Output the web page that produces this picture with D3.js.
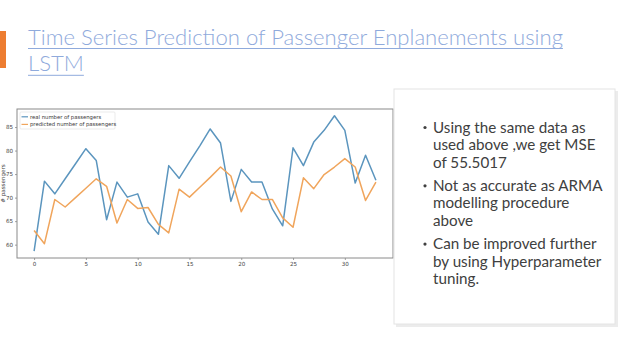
<!DOCTYPE html>
<html><head><meta charset="utf-8">
<script src="https://cdn.jsdelivr.net/npm/d3@7"></script>
<style>html,body{margin:0;padding:0;background:#fff;}svg{display:block;}</style>
</head><body>
<svg id="c" width="638" height="359"></svg>
<script>
const steps = d3.range(0, 34);
const realPassengers = [58.6, 73.5, 70.8, 74.0, 77.2, 80.4, 77.9, 65.3, 73.3, 70.1, 70.8, 64.8, 62.2, 76.8, 74.1, 77.6, 81.0, 84.6, 81.6, 69.2, 76.0, 73.3, 73.3, 67.6, 64.0, 80.6, 76.8, 81.8, 84.3, 87.4, 84.3, 73.1, 79.0, 73.7];
const predictedPassengers = [63.0, 60.2, 69.6, 68.0, 70.0, 72.0, 74.0, 72.4, 64.6, 69.6, 67.7, 67.9, 64.3, 62.5, 71.8, 70.1, 72.2, 74.3, 76.5, 74.6, 67.0, 71.2, 69.6, 69.6, 65.7, 63.7, 74.2, 71.9, 74.9, 76.5, 78.3, 76.5, 69.4, 73.3];
const xTicks = [0, 5, 10, 15, 20, 25, 30];
const yTicks = [60, 65, 70, 75, 80, 85];
const seriesNames = ["real number of passengers", "predicted number of passengers"];
const titleLines = ["Time Series Prediction of Passenger Enplanements using", "LSTM"];
const bulletItems = [
  ["Using the same data as", "used above ,we get MSE", "of 55.5017"],
  ["Not as accurate as ARMA", "modelling procedure", "above"],
  ["Can be improved further", "by using Hyperparameter", "tuning."]
];

const svg = d3.select("#c");
svg.append("rect").attr("width", 638).attr("height", 359).attr("fill", "#fff");

// Title
svg.append("rect").attr("x", 0).attr("y", 31).attr("width", 6).attr("height", 37).attr("fill", "#ED7D31");
const titleColor = "#8FAADC";
const titleBase = [44.5, 71.3];
titleLines.forEach((t, i) => {
  const tx = svg.append("text").attr("x", 28).attr("y", titleBase[i])
    .attr("font-family", "Lato, 'Open Sans', sans-serif").attr("font-weight", 300)
    .attr("font-size", 22.1).attr("fill", titleColor).text(t);
  const w = tx.node().getComputedTextLength();
  svg.append("line").attr("x1", 28).attr("x2", 28 + w).attr("y1", titleBase[i] + 4).attr("y2", titleBase[i] + 4)
    .attr("stroke", titleColor).attr("stroke-width", 1);
});

// Chart
const X0 = 17, X1 = 393, Y0 = 109, Y1 = 258;
const allVals = realPassengers.concat(predictedPassengers);
const [vmin, vmax] = d3.extent(allVals);
const vpad = (vmax - vmin) * 0.05;
const xpad = (d3.max(steps) - d3.min(steps)) * 0.05;
const x = d3.scaleLinear().domain([d3.min(steps) - xpad, d3.max(steps) + xpad]).range([X0, X1]);
const y = d3.scaleLinear().domain([vmin - vpad, vmax + vpad]).range([Y1, Y0]);

const g = svg.append("g");
const tickFont = "DejaVu Sans, sans-serif";
const xAxis = g.append("g").attr("transform", `translate(0,${Y1})`)
  .call(d3.axisBottom(x).tickValues(xTicks).tickSize(2).tickPadding(2).tickFormat(d3.format("d")));
const yAxis = g.append("g").attr("transform", `translate(${X0},0)`)
  .call(d3.axisLeft(y).tickValues(yTicks).tickSize(2).tickPadding(2).tickFormat(d3.format("d")));
[xAxis, yAxis].forEach(a => {
  a.select(".domain").remove();
  a.selectAll("line").attr("stroke", "#777").attr("stroke-width", 0.7);
  a.selectAll("text").attr("font-family", tickFont).attr("font-size", 5.6).attr("fill", "#444");
});
g.append("rect").attr("x", X0).attr("y", Y0).attr("width", X1 - X0).attr("height", Y1 - Y0)
  .attr("fill", "none").attr("stroke", "#8a8a8a").attr("stroke-width", 1);

g.append("text").attr("transform", `translate(5,${(Y0 + Y1) / 2}) rotate(-90)`)
  .attr("text-anchor", "middle").attr("font-family", tickFont).attr("font-size", 5.6).attr("fill", "#444")
  .text("# passengers");

const colors = ["#5B95BE", "#F0A55C"];
const line = d3.line().x((d, i) => x(steps[i])).y(d => y(d));
[realPassengers, predictedPassengers].forEach((s, k) => {
  g.append("path").datum(s).attr("d", line).attr("fill", "none")
    .attr("stroke", colors[k]).attr("stroke-width", 1.5).attr("stroke-linejoin", "round");
});

// Legend
const lg = g.append("g");
lg.append("rect").attr("x", 20).attr("y", 112).attr("width", 95).attr("height", 17)
  .attr("fill", "#fff").attr("stroke", "#ddd").attr("stroke-width", 0.6).attr("rx", 1);
seriesNames.forEach((n, i) => {
  const yy = 116.8 + i * 7.6;
  lg.append("line").attr("x1", 21.5).attr("x2", 28).attr("y1", yy).attr("y2", yy)
    .attr("stroke", colors[i]).attr("stroke-width", 1.2);
  lg.append("text").attr("x", 30).attr("y", yy + 1.9).attr("font-family", tickFont)
    .attr("font-size", 5.3).attr("fill", "#333").text(n);
});

// Text box
svg.append("rect").attr("x", 396).attr("y", 91).attr("width", 222).attr("height", 236).attr("fill", "#ececec");
svg.append("rect").attr("x", 394).attr("y", 89).attr("width", 221).attr("height", 235)
  .attr("fill", "#fff").attr("stroke", "#e4e4e4").attr("stroke-width", 1);

const lineGap = 17.5, paraGap = 23.3;
let by = 132.5;
bulletItems.forEach((item, pi) => {
  svg.append("circle").attr("cx", 425).attr("cy", by - 5).attr("r", 1.6).attr("fill", "#404040");
  item.forEach((t, li) => {
    svg.append("text").attr("x", 433).attr("y", by + li * lineGap)
      .attr("font-family", "Lato, 'Open Sans', sans-serif").attr("font-size", 15.2)
      .attr("fill", "#404040").text(t);
  });
  by += (item.length - 1) * lineGap + paraGap;
});
</script>
</body></html>
